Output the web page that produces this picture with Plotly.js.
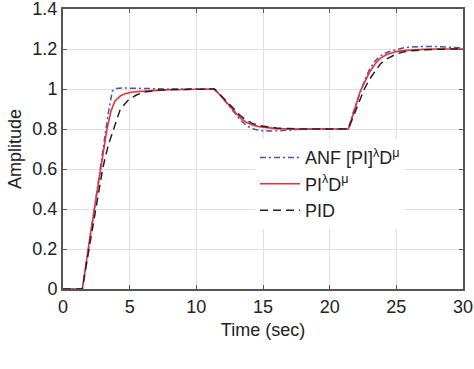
<!DOCTYPE html>
<html>
<head>
<meta charset="utf-8">
<script src="https://cdn.plot.ly/plotly-3.0.1.min.js"></script>
<style>html,body{margin:0;padding:0;background:#fff;}#chart{width:474px;height:369px;}</style>
</head>
<body>
<div id="chart"></div>
<script>
// ANF [PI]^λ D^μ
const tAnf = [0, 1.45, 2.0, 2.5, 3.0, 3.4, 3.7, 4.0, 4.5, 5, 6, 8, 10, 11.35, 11.8, 12.3, 12.8, 13.3, 13.8, 14.3, 14.8, 15.5, 16.5, 17.5, 19, 21.4, 21.8, 22.2, 22.6, 23.0, 23.4, 23.8, 24.2, 24.6, 25, 25.5, 26, 27, 28, 29, 30];
const yAnf = [0, 0, 0.24, 0.47, 0.70, 0.88, 0.99, 1.003, 1.005, 1.004, 1.002, 1.0, 1.0, 1.0, 0.97, 0.93, 0.885, 0.845, 0.815, 0.8, 0.792, 0.79, 0.792, 0.797, 0.8, 0.8, 0.89, 0.97, 1.04, 1.10, 1.14, 1.165, 1.18, 1.19, 1.197, 1.205, 1.21, 1.213, 1.212, 1.208, 1.205];
// PI^λ D^μ
const tFopid = [0, 1.45, 2.0, 2.5, 3.0, 3.3, 3.6, 3.9, 4.3, 4.7, 5.2, 6, 7, 8, 9, 10, 11.35, 11.7, 12.1, 12.5, 12.9, 13.3, 13.7, 14.2, 14.7, 15.3, 16, 17, 18, 21.4, 21.7, 22.0, 22.3, 22.6, 23.0, 23.4, 23.8, 24.2, 24.6, 25, 25.5, 26, 27, 28, 30];
const yFopid = [0, 0, 0.25, 0.47, 0.68, 0.8, 0.89, 0.94, 0.965, 0.978, 0.985, 0.99, 0.993, 0.996, 0.998, 1.0, 1.0, 0.975, 0.945, 0.91, 0.88, 0.855, 0.835, 0.82, 0.812, 0.806, 0.802, 0.8, 0.8, 0.8, 0.86, 0.93, 0.99, 1.03, 1.085, 1.125, 1.153, 1.17, 1.18, 1.187, 1.192, 1.195, 1.198, 1.2, 1.2];
// PID
const tPid = [0, 1.45, 2.0, 2.5, 3.0, 3.4, 3.8, 4.3, 4.9, 5.5, 6.1, 7, 8, 10, 11.35, 11.7, 12.1, 12.5, 12.9, 13.3, 13.7, 14.2, 14.7, 15.3, 16, 17, 18, 21.4, 21.7, 22.0, 22.3, 22.6, 23.0, 23.4, 23.8, 24.2, 24.6, 25, 25.5, 26, 27, 28, 30];
const yPid = [0, 0, 0.22, 0.42, 0.61, 0.72, 0.8, 0.9, 0.945, 0.97, 0.985, 0.993, 0.997, 1.0, 1.0, 0.978, 0.95, 0.92, 0.892, 0.867, 0.846, 0.828, 0.817, 0.81, 0.805, 0.802, 0.8, 0.8, 0.85, 0.91, 0.96, 1.0, 1.05, 1.09, 1.125, 1.148, 1.163, 1.175, 1.185, 1.19, 1.196, 1.199, 1.2];

const seriesNames = ['ANF [PI]<sup>λ</sup>D<sup>μ</sup>', 'PI<sup>λ</sup>D<sup>μ</sup>', 'PID'];
const xTicks = [0, 5, 10, 15, 20, 25, 30];
const yTicks = [0, 0.2, 0.4, 0.6, 0.8, 1, 1.2, 1.4];

const FONT = 'Liberation Sans, Arial, sans-serif';

const traces = [
  {x: tAnf, y: yAnf, name: seriesNames[0], mode: 'lines', line: {color: '#4f4fb0', width: 1.5, dash: '6px,3px,2px,3px'}},
  {x: tFopid, y: yFopid, name: seriesNames[1], mode: 'lines', line: {color: '#e8313a', width: 1.6}},
  {x: tPid, y: yPid, name: seriesNames[2], mode: 'lines', line: {color: '#222222', width: 1.5, dash: '8px,5px'}}
];

const axisCommon = {
  showline: true, linecolor: '#555', linewidth: 2, mirror: 'ticks',
  ticks: 'inside', ticklen: 4, tickcolor: '#555', tickwidth: 1,
  showgrid: true, gridcolor: '#e0e0e0', gridwidth: 1, zeroline: false,
  ticklabeloverflow: 'allow',
  tickfont: {family: FONT, size: 18, color: '#222'}
};

const layout = {
  width: 474, height: 369,
  margin: {l: 63, r: 11, t: 9, b: 80},
  paper_bgcolor: '#fff', plot_bgcolor: '#fff',
  font: {family: FONT, size: 18, color: '#222'},
  showlegend: true,
  legend: {x: 0.48, y: 0.535, xanchor: 'left', yanchor: 'top', bgcolor: '#fff', borderwidth: 0,
    font: {family: FONT, size: 18, color: '#222'}, tracegroupgap: 0, itemwidth: 40},
  xaxis: Object.assign({}, axisCommon, {range: [0, 30], tickvals: xTicks, ticktext: xTicks.map(String),
    title: {text: 'Time (sec)', font: {family: FONT, size: 18, color: '#222'}, standoff: 8}}),
  yaxis: Object.assign({}, axisCommon, {range: [0, 1.4], tickvals: yTicks, ticktext: yTicks.map(String),
    title: {text: 'Amplitude', font: {family: FONT, size: 18, color: '#222'}, standoff: 6}})
};

Plotly.newPlot('chart', traces, layout, {displayModeBar: false, staticPlot: true});
</script>
</body>
</html>
